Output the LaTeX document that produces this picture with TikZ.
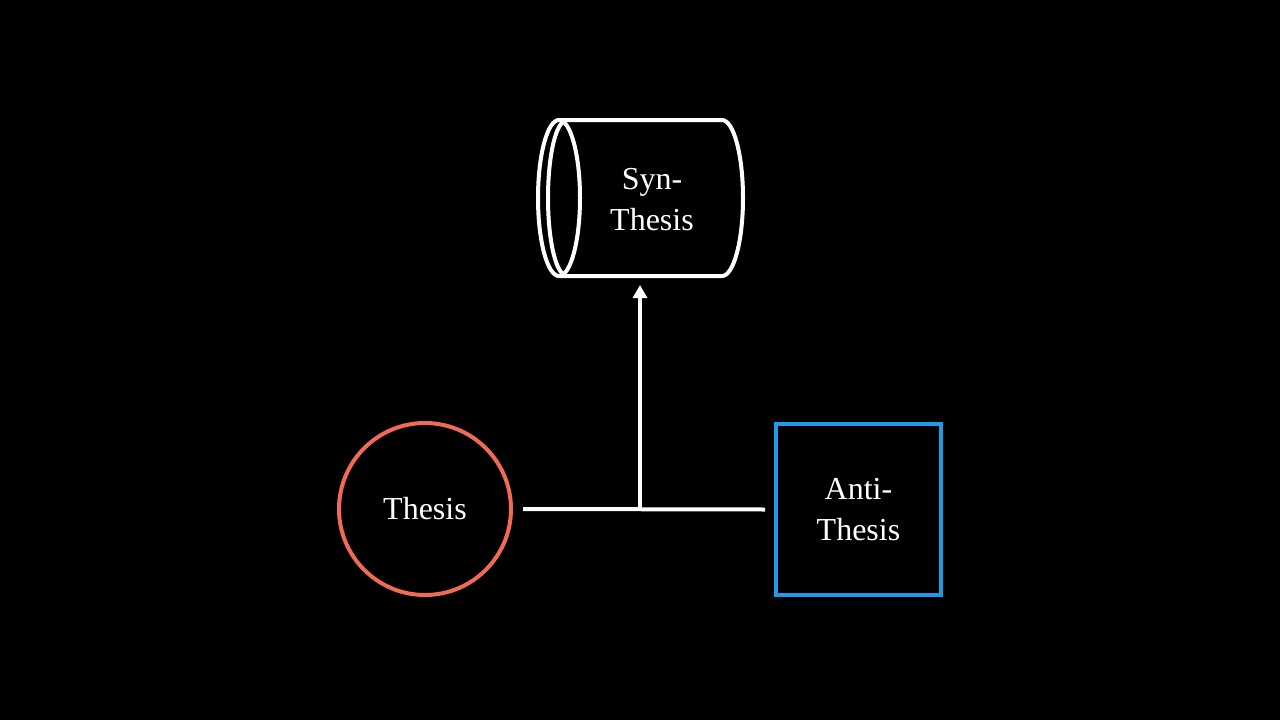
\documentclass[tikz,border=0pt]{standalone}
\usepackage{fontspec}
\setmainfont{Liberation Serif}
\usetikzlibrary{arrows.meta}
\definecolor{thred}{HTML}{F06A55}
\definecolor{thblue}{HTML}{1E9BE8}
\tikzset{lbl/.style={text=white,font=\fontsize{32}{41}\selectfont,align=center},
 ln/.style={white,line width=4pt}}
\begin{document}
\begin{tikzpicture}[x=1pt,y=-1pt]
\fill[black] (0,0) rectangle (1280,720);
\useasboundingbox (0,0) rectangle (1280,720);
\node[circle,draw=thred,line width=4pt,minimum size=172pt,lbl] (th) at (425,509) {Thesis};
\node[rectangle,draw=thblue,line width=4pt,minimum width=165pt,minimum height=171pt,lbl] (an) at (858.5,509.5) {Anti-\\Thesis};
\draw[ln] (559,120) -- (722,120) arc[start angle=-90,end angle=90,x radius=21,y radius=78] -- (559,276);
\draw[ln] (559,198) ellipse[x radius=21,y radius=78];
\draw[ln] (566,121) arc[start angle=-90,end angle=-270,x radius=18,y radius=77];
\node[lbl] (sy) at (652,200) {Syn-\\Thesis};
\coordinate (cb) at (640,285);
\coordinate (j) at (640,509);
\draw[ln] ([xshift=10pt]th.east) -- ([xshift=-9pt]an.west);
\draw[ln,-{Triangle[length=13pt,width=14pt]}] (j) -- (cb);
\end{tikzpicture}
\end{document}
